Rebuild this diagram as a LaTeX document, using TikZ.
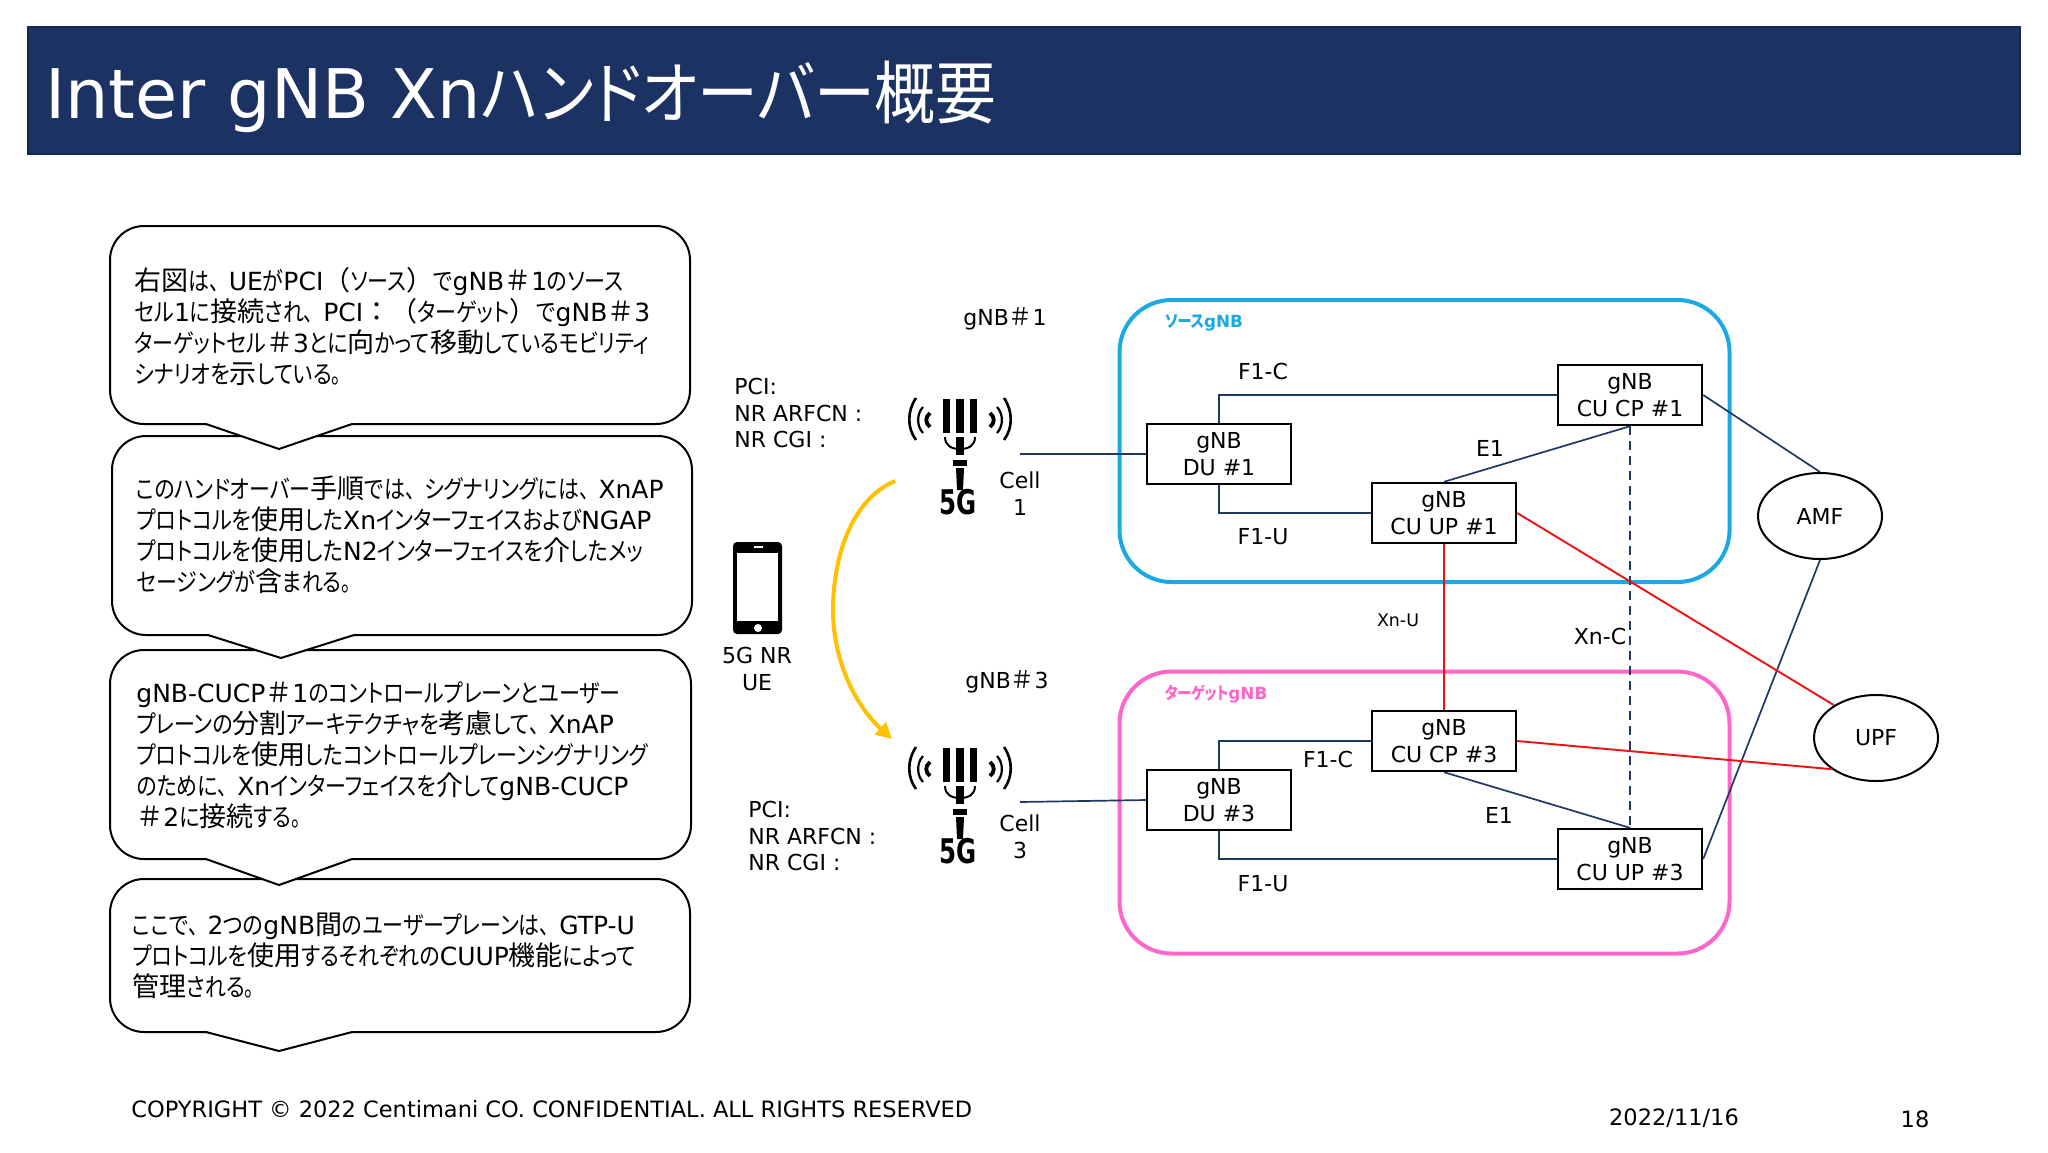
\documentclass[tikz,border=0pt]{standalone}
\usepackage{fontspec}
\usepackage{xcolor}
\usetikzlibrary{shapes.geometric,arrows.meta}
\setmainfont{DejaVu Sans}
\newfontfamily\jpfont[RawFeature=+palt,FakeStretch=0.84]{Noto Sans CJK JP}
\newfontfamily\jpwide[Scale=1.08]{Noto Sans CJK JP}
\newfontfamily\jppunct[Scale=1.08,FakeStretch=0.72]{Noto Sans CJK JP}
\newfontfamily\jptitle[RawFeature=+palt,FakeStretch=0.89]{Noto Sans CJK JP}
\newfontfamily\iconfont[FakeStretch=0.72]{DejaVu Sans}
\definecolor{barblue}{HTML}{1B3263}
\definecolor{barline}{HTML}{142850}
\definecolor{navyline}{HTML}{1F3864}
\definecolor{srccyan}{HTML}{1AA9E2}
\definecolor{tgtpink}{HTML}{FF66CC}
\definecolor{xnred}{HTML}{EE1111}
\definecolor{moveyellow}{HTML}{FFC000}

% japanese runs switch font on their own
\newXeTeXintercharclass\jpclass
\newXeTeXintercharclass\jpwideclass
\newXeTeXintercharclass\jppunctclass
\newcount\jpcount
\newcommand{\jprange}[3]{%
  \jpcount=#1
  \loop
    \XeTeXcharclass\jpcount=#3
  \ifnum\jpcount<#2 \advance\jpcount by 1 \repeat}
\jprange{"3000}{"303F}{\jppunctclass}
\jprange{"3040}{"30FF}{\jpclass}
\jprange{"4E00}{"9FFF}{\jpwideclass}
\jprange{"FF00}{"FFEF}{\jpwideclass}
\XeTeXinterchartoks 0 \jpclass={\jpfont}
\XeTeXinterchartoks 4095 \jpclass={\jpfont}
\XeTeXinterchartoks \jpclass 0={\rmfamily}
\XeTeXinterchartoks \jpclass 4095={\rmfamily}
\XeTeXinterchartoks 0 \jpwideclass={\jpwide}
\XeTeXinterchartoks 4095 \jpwideclass={\jpwide}
\XeTeXinterchartoks \jpwideclass 0={\rmfamily}
\XeTeXinterchartoks \jpwideclass 4095={\rmfamily}
\XeTeXinterchartoks \jpclass \jpwideclass={\jpwide}
\XeTeXinterchartoks \jpwideclass \jpclass={\jpfont}
\XeTeXinterchartoks 0 \jppunctclass={\jppunct}
\XeTeXinterchartoks 4095 \jppunctclass={\jppunct}
\XeTeXinterchartoks \jppunctclass 0={\rmfamily}
\XeTeXinterchartoks \jppunctclass 4095={\rmfamily}
\XeTeXinterchartoks \jpclass \jppunctclass={\jppunct}
\XeTeXinterchartoks \jppunctclass \jpclass={\jpfont}
\XeTeXinterchartoks \jpwideclass \jppunctclass={\jppunct}
\XeTeXinterchartoks \jppunctclass \jpwideclass={\jpwide}
\XeTeXinterchartokenstate=1
\newcommand{\noswitch}{\XeTeXinterchartokenstate=0\relax}

% left, top, right, bottom, tip x, tip y
\newcommand{\speechbox}[6]{%
  \draw[speech,rounded corners=17pt] (#1,#2) rectangle (#3,#4);
  \fill[white] (#5-73,#4-1.5) -- (#5+73,#4-1.5) -- (#5+73,#4) -- (#5,#6) -- (#5-73,#4) -- cycle;
  \draw[speech,fill=none] (#5-73,#4) -- (#5,#6) -- (#5+73,#4);}

\begin{document}
\begin{tikzpicture}
  [x=0.5pt,y=-0.5pt,
   speech/.style={draw=black,fill=white,line width=1pt},
   bodytext/.style={anchor=west,align=left,inner sep=0pt,font=\fontsize{12.5}{15.5}\selectfont},
   zone/.style={draw,line width=2pt,rounded corners=26pt,minimum width=305pt,minimum height=141pt},
   gnbbox/.style={draw=black,fill=white,line width=1.2pt,minimum width=72pt,minimum height=30pt,
     inner sep=0pt,align=center,font=\fontsize{11}{13.2}\selectfont},
   corenode/.style={ellipse,draw=black,fill=white,line width=1pt,minimum width=62pt,minimum height=43pt,
     inner sep=0pt,font=\fontsize{11}{13.2}\selectfont},
   lbl/.style={inner sep=0pt,align=center,font=\fontsize{11}{13.4}\selectfont},
   lblleft/.style={lbl,anchor=west,align=left},
   foot/.style={inner sep=0pt,font=\fontsize{11.25}{13.4}\selectfont},
   ctrl/.style={draw=navyline,line width=0.85pt},
   user/.style={draw=xnred,line width=0.95pt},
   antenna/.pic={
     \fill (-17,0) rectangle (-10,34);
     \fill (-4,0) rectangle (4,34);
     \fill (10,0) rectangle (17,34);
     \draw[line width=1.3pt] (-44,-1) .. controls (-53,12) and (-53,29) .. (-44,41);
     \draw[line width=1.1pt] (-37,8) .. controls (-43.5,15) and (-43.5,27) .. (-37,34);
     \draw[line width=1.9pt] (-30,14) .. controls (-35,18) and (-35,24) .. (-30,28);
     \draw[line width=1.3pt] (44,-1) .. controls (53,12) and (53,29) .. (44,41);
     \draw[line width=1.1pt] (37,8) .. controls (43.5,15) and (43.5,27) .. (37,34);
     \draw[line width=1.9pt] (30,14) .. controls (35,18) and (35,24) .. (30,28);
     \fill (-4,38) rectangle (4,56);
     \draw[line width=1pt] (-15,38) .. controls (-15,47) and (-8,50) .. (0,50)
       .. controls (8,50) and (15,47) .. (15,38);
     \fill (-7,61) rectangle (7,67);
     \fill (-4,69) -- (4,69) -- (3,91) -- (-3,91) -- cycle;
     \node[inner sep=0pt,font=\iconfont\bfseries\fontsize{17}{17}\selectfont] (-tag) at (-1.5,103) {5G};
   },
  ]
  \useasboundingbox (0,0) rectangle (2048,1152);
  \fill[white] (0,0) rectangle (2048,1152);

  % title
  \fill[barblue,draw=barline,line width=1pt] (28,27) rectangle (2020,154);
  \node[anchor=base west,inner sep=0pt,text=white,font=\fontsize{34.2}{40}\selectfont\noswitch] (title) at (45,118)
    {Inter gNB Xn{\jptitle ハンドオーバー概要}};

  % left column, drawn upwards so each tip lies on the next box
  \speechbox{110}{879}{690}{1032}{279}{1051}
  \speechbox{110}{650}{691}{859}{279}{885}
  \speechbox{112}{436}{692}{635}{281}{658}
  \speechbox{110}{226}{690}{424}{279}{449}

  \node[bodytext] (text1) at (134,326) {右図は、UEがPCI（ソース）でgNB＃1のソース\\
    セル1に接続され、PCI：（ターゲット）でgNB＃3\\
    ターゲットセル＃3とに向かって移動しているモビリティ\\
    シナリオを示している。};
  \node[bodytext] (text2) at (136,535) {このハンドオーバー手順では、シグナリングには、XnAP\\
    プロトコルを使用したXnインターフェイスおよびNGAP\\
    プロトコルを使用したN2インターフェイスを介したメッ\\
    セージングが含まれる。};
  \node[bodytext] (text3) at (136,755) {gNB-CUCP＃1のコントロールプレーンとユーザー\\
    プレーンの分割アーキテクチャを考慮して、XnAP\\
    プロトコルを使用したコントロールプレーンシグナリング\\
    のために、Xnインターフェイスを介してgNB-CUCP\\
    ＃2に接続する。};
  \node[bodytext] (text4) at (132,956) {ここで、2つのgNB間のユーザープレーンは、GTP-U\\
    プロトコルを使用するそれぞれのCUUP機能によって\\
    管理される。};

  % phone
  \fill[black,rounded corners=2pt] (733,542) rectangle (782,634);
  \fill[white] (737,553) rectangle (778,621);
  \fill[white] (754,546) rectangle (763,548);
  \fill[white] (758,628) circle (4);
  \node[lbl] (ue) at (757,669) {5G NR\\UE};

  % antennas
  \pic (ant1) at (960,399) {antenna};
  \pic (ant3) at (960,748) {antenna};
  \node[lbl] (gnb1) at (1005,319) {gNB＃1};
  \node[lbl] (gnb3) at (1007,682) {gNB＃3};
  \node[lblleft] (pci1) at (734,413) {PCI:\\NR ARFCN :\\NR CGI :};
  \node[lblleft] (pci3) at (748,836) {PCI:\\NR ARFCN :\\NR CGI :};
  \node[lbl] (cell1) at (1020,494) {Cell\\1};
  \node[lbl] (cell3) at (1020,837) {Cell\\3};

  % handover move
  \coordinate (movefrom) at (895,481);
  \coordinate (moveto) at (892,739);
  \draw[moveyellow,line width=2pt,-{Triangle[length=8pt,width=8pt]}] (movefrom) .. controls (850,500) and (833,560) .. (833,610)
    .. controls (833,660) and (855,705) .. (moveto);

  % gnb zones
  \node[zone,draw=srccyan] (srczone) at (1424.5,441) {};
  \node[zone,draw=tgtpink] (tgtzone) at (1424.5,812.5) {};
  \node[inner sep=0pt,text=srccyan,font=\bfseries\fontsize{8.4}{10}\selectfont] (srclbl) at (1204,323) {ソースgNB};
  \node[inner sep=0pt,text=tgtpink,font=\bfseries\fontsize{8.4}{10}\selectfont] (tgtlbl) at (1216,694) {ターゲットgNB};

  \node[gnbbox] (du1) at (1219,454) {gNB\\DU \#1};
  \node[gnbbox] (cp1) at (1630,395) {gNB\\CU CP \#1};
  \node[gnbbox] (up1) at (1444,513) {gNB\\CU UP \#1};
  \node[gnbbox] (cp3) at (1444,741) {gNB\\CU CP \#3};
  \node[gnbbox] (du3) at (1219,800) {gNB\\DU \#3};
  \node[gnbbox] (up3) at (1630,859) {gNB\\CU UP \#3};
  \node[corenode] (amf) at (1820,516) {AMF};
  \node[corenode] (upf) at (1876,738) {UPF};

  \coordinate (feed1) at (1020,454);
  \coordinate (feed3) at (1020,802);

  \draw[ctrl] (feed1) -- (du1.west);
  \draw[ctrl] (feed3) -- (du3.west);
  \draw[ctrl] (du1.north) |- (cp1.west);
  \draw[ctrl] (du1.south) |- (up1.west);
  \draw[ctrl] (up1.north) -- (cp1.south);
  \draw[ctrl] (du3.north) |- (cp3.west);
  \draw[ctrl] (du3.south) |- (up3.west);
  \draw[ctrl] (cp3.south) -- (up3.north);
  \draw[ctrl,dash pattern=on 4.5pt off 3pt] (cp1.south) -- (up3.north);
  \draw[ctrl] (cp1.east) -- (amf.north);
  \draw[ctrl] (amf.south) -- (up3.east);
  \draw[user] (up1.south) -- (cp3.north);
  \draw[user] (up1.east) -- (upf.142);
  \draw[user] (cp3.east) -- (upf.215);

  \node[lbl] (f1c1) at (1263,371) {F1-C};
  \node[lbl] (f1u1) at (1263,537) {F1-U};
  \node[lbl] (e11) at (1490,448) {E1};
  \node[lbl,font=\fontsize{8.7}{10}\selectfont] (xnu) at (1398,620) {Xn-U};
  \node[lbl] (xnc) at (1600,636) {Xn-C};
  \node[lbl] (f1c3) at (1328,759) {F1-C};
  \node[lbl] (e13) at (1499,815) {E1};
  \node[lbl] (f1u3) at (1263,884) {F1-U};

  % footer
  \node[foot,anchor=west] (copy) at (131,1109) {COPYRIGHT © 2022 Centimani CO. CONFIDENTIAL. ALL RIGHTS RESERVED};
  \node[foot] (date) at (1674,1118) {2022/11/16};
  \node[foot] (page) at (1915,1119) {18};
\end{tikzpicture}
\end{document}
